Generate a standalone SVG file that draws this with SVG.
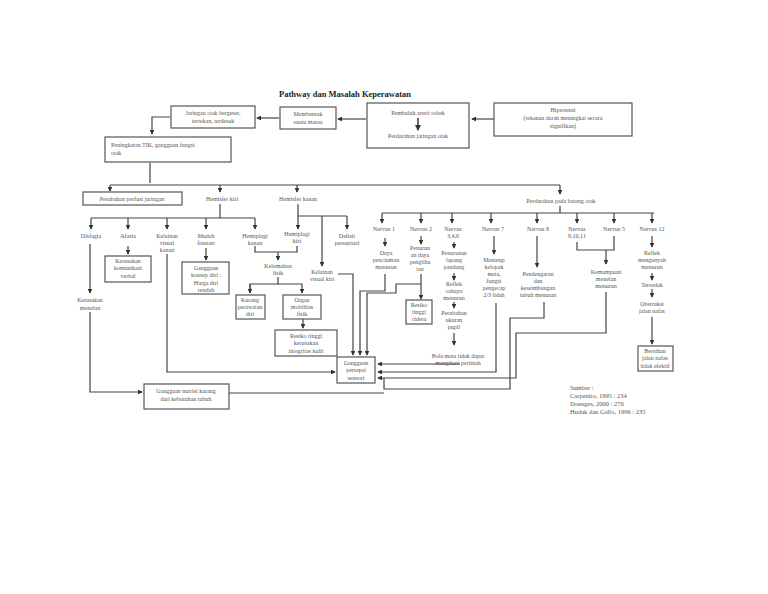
<svg xmlns="http://www.w3.org/2000/svg" width="768" height="594" viewBox="0 0 768 594">
<style>
text{font-family:"Liberation Serif",serif;font-size:6px;fill:#555;text-anchor:middle}
.b{fill:#fff;stroke:#555;stroke-width:1.2}
.l{fill:none;stroke:#444;stroke-width:1.2}
.t{font-size:8.5px;font-weight:bold;fill:#222}
.s{text-anchor:start;font-size:6.5px}
</style>
<defs><marker id="a" viewBox="0 0 6 6" refX="5" refY="3" markerWidth="4" markerHeight="4" orient="auto"><path d="M0,0L6,3L0,6z" fill="#333"/></marker></defs>
<rect width="768" height="594" fill="#fff"/>
<text class="t" x="345" y="97">Pathway dan Masalah Keperawatan</text>
<g id="n1"><rect class="b" x="367" y="103" width="102" height="45"/><text x="418" y="115">Pembuluh arteri robek</text><text x="418" y="138">Perdarahan jaringan otak</text></g>
<g id="connectors" class="l" marker-end="url(#a)">
<path d="M494,119H472"/><path d="M366,119H338"/><path d="M279,118H257"/>
<path d="M170,117H152V134"/><path d="M418,118V130" stroke-width="1.6"/>
<path d="M150,163V183" marker-end="none"/>
<path d="M110,185H560" marker-end="none"/>
<path d="M110,185V191"/><path d="M220,185V192"/><path d="M297,185V192"/><path d="M560,185V194"/>
<path d="M220,204V218" marker-end="none"/><path d="M91,218H255" marker-end="none"/>
<path d="M91,218V229"/><path d="M128,218V229"/><path d="M167,218V229"/><path d="M206,218V229"/><path d="M255,218V229"/>
<path d="M298,204V229"/><path d="M298,216H347" marker-end="none"/><path d="M347,216V229"/><path d="M322,216V266"/>
<path d="M128,246V254"/><path d="M206,248V260"/>
<path d="M90,244V293"/>
<path d="M255,246V252H297V246" marker-end="none"/><path d="M278,252V260"/>
<path d="M278,277V284H250V292" marker-end="none"/><path d="M250,284V293"/><path d="M278,284H302V293"/>
<path d="M303,319V328"/>
<path d="M338,274H353V355"/><path d="M167,254V372H335"/>
<path d="M90,312V392H142"/>
<path d="M384,393H225" marker-end="none"/>
<path d="M560,206V213" marker-end="none"/><path d="M382,213H654" marker-end="none"/>
<path d="M382,213V223"/><path d="M421,213V223"/><path d="M452,213V223"/><path d="M491,213V223"/><path d="M537,213V223"/><path d="M577,213V223"/><path d="M614,213V223"/><path d="M652,213V223"/>
<path d="M385,238V246"/><path d="M421,236V244"/><path d="M454,242V248"/><path d="M494,236V254"/><path d="M537,236V267"/>
<path d="M577,242V250H614V236" marker-end="none"/><path d="M606,250V264"/>
<path d="M652,236V247"/>
<path d="M385,274V291H360V355"/>
<path d="M421,274V299"/><path d="M421,284H396V293H367V355"/>
<path d="M454,273V280"/><path d="M454,302V308"/><path d="M454,333V345"/>
<path d="M460,364H378"/>
<path d="M496,303V372H378"/>
<path d="M544,302V318H510V389H384V378" marker-end="none"/><path d="M606,292V333H516V378H378"/>
<path d="M652,273V280"/><path d="M652,289V297"/><path d="M652,317V344"/>
</g>
<g id="n2"><rect class="b" x="494" y="103" width="138" height="33"/><text x="563" y="112">Hipertensi</text><text x="563" y="120">(tekanan darah meningkat secara</text><text x="563" y="128">signifikan)</text></g>
<g id="n3"><rect class="b" x="280" y="107" width="56" height="22"/><text x="308" y="116">Membentuk</text><text x="308" y="124">suatu massa</text></g>
<g id="n4"><rect class="b" x="171" y="106" width="84" height="22"/><text x="213" y="115">Jaringan otak bergeser,</text><text x="213" y="123">tertekan, terdesak</text></g>
<g id="n5"><rect class="b" x="105" y="137" width="126" height="25"/><text class="s" x="111" y="147" style="font-size:6px">Peningkatan TIK, gangguan fungsi</text><text class="s" x="111" y="155" style="font-size:6px">otak</text></g>
<g id="n6"><rect class="b" x="83" y="192" width="99" height="13"/><text x="132" y="201">Perubahan perfusi jaringan</text></g>
<g id="n7"><text x="222" y="201">Hemisfer kiri</text></g>
<g id="n8"><text x="298" y="201">Hemisfer kanan</text></g>
<g id="n9"><text x="561" y="203">Perdarahan pada batang otak</text></g>
<g id="n10"><text x="91" y="238">Disfagia</text></g>
<g id="n11"><text x="128" y="238">Afasia</text></g>
<g id="n12"><text x="167" y="238">Kelainan</text><text x="167" y="245">visual</text><text x="167" y="252">kanan</text></g>
<g id="n13"><text x="206" y="238">Mudah</text><text x="206" y="245">frustasi</text></g>
<g id="n14"><text x="255" y="238">Hemiplagi</text><text x="255" y="245">kanan</text></g>
<g id="n15"><text x="297" y="236">Hemiplagi</text><text x="297" y="243">kiri</text></g>
<g id="n16"><text x="347" y="238">Defisit</text><text x="347" y="245">perseptual</text></g>
<g id="n17"><rect class="b" x="105" y="256" width="46" height="26"/><text x="128" y="263">Kerusakan</text><text x="128" y="270">komunikasi</text><text x="128" y="278">verbal</text></g>
<g id="n18"><rect class="b" x="182" y="262" width="47" height="32"/><text x="206" y="270">Gangguan</text><text x="206" y="277">konsep diri :</text><text x="206" y="285">Harga diri</text><text x="206" y="292">rendah</text></g>
<g id="n19"><text x="278" y="268">Kelemahan</text><text x="278" y="275">fisik</text></g>
<g id="n20"><text x="322" y="274">Kelainan</text><text x="322" y="281">visual kiri</text></g>
<g id="n21"><text x="90" y="302">Kerusakan</text><text x="90" y="310">menelan</text></g>
<g id="n22"><rect class="b" x="236" y="295" width="29" height="24"/><text x="250" y="302">Kurang</text><text x="250" y="309">perawatan</text><text x="250" y="316">diri</text></g>
<g id="n23"><rect class="b" x="283" y="295" width="38" height="24"/><text x="302" y="302">Organ</text><text x="302" y="309">mobilitas</text><text x="302" y="316">fisik</text></g>
<g id="n24"><rect class="b" x="275" y="330" width="62" height="26"/><text x="306" y="338">Resiko tinggi</text><text x="306" y="345">kerusakan</text><text x="306" y="353">integritas kulit</text></g>
<g id="n25"><rect class="b" x="337" y="357" width="38" height="26"/><text x="356" y="365">Gangguan</text><text x="356" y="372">persepsi</text><text x="356" y="380">sensori</text></g>
<g id="n26"><rect class="b" x="144" y="384" width="85" height="25"/><text x="186" y="393">Gangguan nutrisi kurang</text><text x="186" y="401">dari kebutuhan tubuh</text></g>
<g id="n27"><text x="384" y="231">Nervus 1</text></g>
<g id="n28"><text x="421" y="231">Nervus 2</text></g>
<g id="n29"><text x="453" y="231">Nervus</text><text x="453" y="238">3,4,6</text></g>
<g id="n30"><text x="493" y="231">Nervus 7</text></g>
<g id="n31"><text x="538" y="231">Nervus 8</text></g>
<g id="n32"><text x="577" y="231">Nervus</text><text x="577" y="238">9,10,11</text></g>
<g id="n33"><text x="614" y="231">Nervus 5</text></g>
<g id="n34"><text x="652" y="231">Nervus 12</text></g>
<g id="n35"><text x="386" y="255">Daya</text><text x="386" y="262">penciuman</text><text x="386" y="269">menurun</text></g>
<g id="n36"><text x="420" y="250">Penurun</text><text x="420" y="257">an daya</text><text x="420" y="264">pengliha</text><text x="420" y="271">tan</text></g>
<g id="n37"><text x="454" y="255">Penurunan</text><text x="454" y="262">lapang</text><text x="454" y="269">pandang</text></g>
<g id="n38"><text x="454" y="286">Reflek</text><text x="454" y="293">cahaya</text><text x="454" y="300">menurun</text></g>
<g id="n39"><text x="454" y="315">Perubahan</text><text x="454" y="322">ukuran</text><text x="454" y="329">pupil</text></g>
<g id="n40"><text x="494" y="262">Menutup</text><text x="494" y="269">kelopak</text><text x="494" y="276">mata,</text><text x="494" y="283">fungsi</text><text x="494" y="290">pengecap</text><text x="494" y="297">2/3 lidah</text></g>
<g id="n41"><text x="538" y="276">Pendengaran</text><text x="538" y="283">dan</text><text x="538" y="290">keseimbangan</text><text x="538" y="297">tubuh menurun</text></g>
<g id="n42"><text x="606" y="274">Kemampuan</text><text x="606" y="281">menelan</text><text x="606" y="288">menurun</text></g>
<g id="n43"><text x="652" y="255">Reflek</text><text x="652" y="262">mengunyah</text><text x="652" y="269">menurun</text></g>
<g id="n44"><text x="652" y="287">Tersedak</text></g>
<g id="n45"><text x="652" y="306">Obstruksi</text><text x="652" y="313">jalan nafas</text></g>
<g id="n46"><rect class="b" x="638" y="346" width="35" height="25"/><text x="655" y="353">Bersihan</text><text x="655" y="360">jalan nafas</text><text x="655" y="368">tidak efektif</text></g>
<g id="n47"><rect class="b" x="406" y="300" width="26" height="24"/><text x="419" y="307">Resiko</text><text x="419" y="314">tinggi</text><text x="419" y="321">cidera</text></g>
<g id="n48"><text x="458" y="358">Bola mata tidak dapat</text><text x="458" y="365">mengikuti perintah</text></g>
<g id="src"><text class="s" x="570" y="390">Sumber :</text><text class="s" x="570" y="398">Carpenito, 1995 : 234</text><text class="s" x="570" y="406">Doenges, 2000 : 270</text><text class="s" x="570" y="414">Hudak dan Gallo, 1996 : 235</text></g>
</svg>
